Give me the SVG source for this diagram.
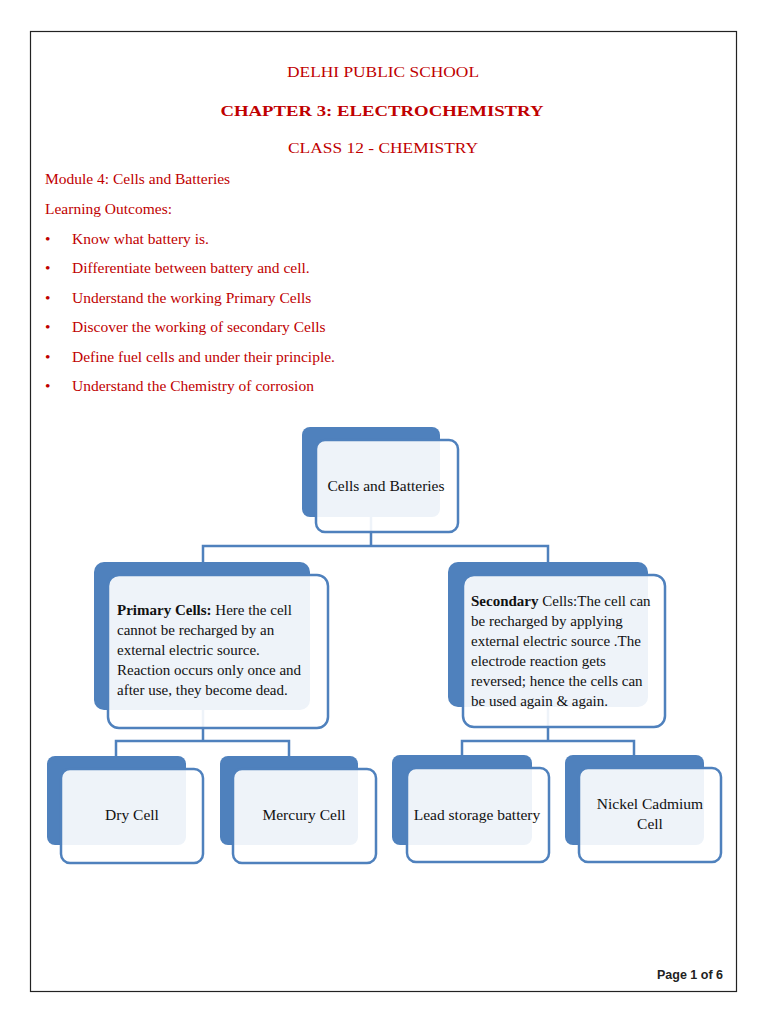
<svg xmlns="http://www.w3.org/2000/svg" width="768" height="1024" viewBox="0 0 768 1024">
<style>
.red{font-family:"Liberation Serif","DejaVu Serif",serif;fill:#c00000;font-size:15.5px}
.h{text-anchor:middle}
.nt{font-family:"Liberation Serif","DejaVu Serif",serif;fill:#111;font-size:15.5px}
.ml{font-size:15px}
.c{text-anchor:middle}
.back{fill:#4f81bd}
.front{fill:#ffffff;fill-opacity:0.9;stroke:#4f81bd;stroke-width:2.5}
.conn{fill:none;stroke:#4f81bd;stroke-width:2.5}
</style>
<rect x="0" y="0" width="768" height="1024" fill="#ffffff"/>
<rect x="30.5" y="31.5" width="706" height="960" fill="none" stroke="#222" stroke-width="1.2"/>

<text class="red h" x="383" y="77" font-size="19" textLength="192" lengthAdjust="spacingAndGlyphs">DELHI PUBLIC SCHOOL</text>
<text class="red h" x="382" y="116" font-size="23" font-weight="bold" textLength="323" lengthAdjust="spacingAndGlyphs">CHAPTER 3: ELECTROCHEMISTRY</text>
<text class="red h" x="383" y="153" font-size="19" textLength="190" lengthAdjust="spacingAndGlyphs">CLASS 12 - CHEMISTRY</text>

<text class="red" x="45" y="184">Module 4: Cells and Batteries</text>
<text class="red" x="45" y="214">Learning Outcomes:</text>
<g class="red">
<text x="45" y="244">•</text><text x="72" y="244">Know what battery is.</text>
<text x="45" y="273">•</text><text x="72" y="273">Differentiate between battery and cell.</text>
<text x="45" y="303">•</text><text x="72" y="303">Understand the working Primary Cells</text>
<text x="45" y="332">•</text><text x="72" y="332">Discover the working of secondary Cells</text>
<text x="45" y="362">•</text><text x="72" y="362">Define fuel cells and under their principle.</text>
<text x="45" y="391">•</text><text x="72" y="391">Understand the Chemistry of corrosion</text>
</g>

<g id="connectors">
<path class="conn" d="M371 517 V546 M203 562 V546 H548 V562"/>
<path class="conn" d="M203 710 V741 M116 756 V741 H289 V756"/>
<path class="conn" d="M548 707 V741 M462 755 V741 H634 V755"/>
</g>

<g id="node-root">
<rect class="back" x="302" y="427" width="138" height="90" rx="8"/>
<rect class="front" x="316" y="440" width="142" height="92" rx="9"/>
<text class="nt c" x="386" y="491">Cells and Batteries</text>
</g>

<g id="node-primary">
<rect class="back" x="94" y="562" width="216" height="148" rx="10"/>
<rect class="front" x="108" y="575" width="220" height="153" rx="11"/>
<g class="nt ml">
<text x="117" y="615"><tspan font-weight="bold">Primary Cells:</tspan> Here the cell</text>
<text x="117" y="635">cannot be recharged  by an</text>
<text x="117" y="655">external electric source.</text>
<text x="117" y="675">Reaction occurs only once and</text>
<text x="117" y="695">after use, they become dead.</text>
</g>
</g>

<g id="node-secondary">
<rect class="back" x="448" y="562" width="200" height="145" rx="10"/>
<rect class="front" x="463" y="575" width="202" height="152" rx="11"/>
<g class="nt ml">
<text x="471" y="606"><tspan font-weight="bold">Secondary</tspan> Cells:The cell can</text>
<text x="471" y="626">be recharged by applying</text>
<text x="471" y="646">external electric source .The</text>
<text x="471" y="666">electrode reaction gets</text>
<text x="471" y="686">reversed; hence the cells can</text>
<text x="471" y="706">be used again &amp; again.</text>
</g>
</g>

<g id="node-dry">
<rect class="back" x="47" y="756" width="139" height="89" rx="8"/>
<rect class="front" x="61" y="769" width="142" height="94" rx="9"/>
<text class="nt c" x="132" y="820">Dry Cell</text>
</g>

<g id="node-mercury">
<rect class="back" x="220" y="756" width="138" height="89" rx="8"/>
<rect class="front" x="233" y="769" width="143" height="94" rx="9"/>
<text class="nt c" x="304" y="820">Mercury Cell</text>
</g>

<g id="node-lead">
<rect class="back" x="392" y="755" width="140" height="90" rx="8"/>
<rect class="front" x="407" y="768" width="142" height="94" rx="9"/>
<text class="nt c" x="477" y="820">Lead storage battery</text>
</g>

<g id="node-nickel">
<rect class="back" x="565" y="755" width="139" height="90" rx="8"/>
<rect class="front" x="579" y="768" width="142" height="94" rx="9"/>
<text class="nt c" x="650" y="809">Nickel Cadmium</text>
<text class="nt c" x="650" y="829">Cell</text>
</g>

<text x="723" y="979" text-anchor="end" font-family="Liberation Sans, Arial, sans-serif" font-size="12.5" font-weight="bold" fill="#222">Page 1 of 6</text>
</svg>
